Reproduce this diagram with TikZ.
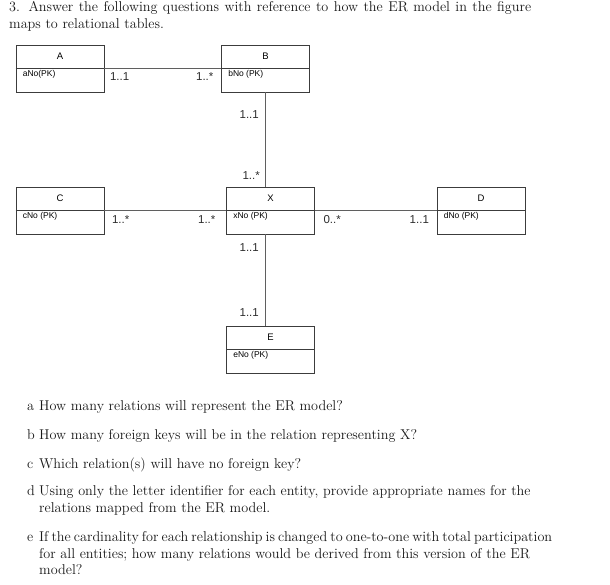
\documentclass[tikz,border=0pt]{standalone}
\usepackage{fontspec}
\setsansfont{Liberation Sans}
\usepackage{xcolor}
\usepackage{tikz}
\usetikzlibrary{positioning, calc}
\definecolor{erbox}{RGB}{60,60,60}
\definecolor{erlink}{RGB}{95,95,95}
\definecolor{ercard}{RGB}{45,45,45}
\definecolor{ertext}{RGB}{25,25,25}

\tikzset{
  entity/.style={draw=erbox, line width=0.8pt, minimum width=88pt, minimum height=47pt, inner sep=0pt},
  entline/.style={draw=erbox, line width=0.8pt},
  enttitle/.style={font=\sffamily\fontsize{9.5}{11}\selectfont, inner sep=0pt},
  entkey/.style={font=\sffamily\fontsize{8.5}{10}\selectfont, inner sep=0pt, anchor=north west},
  card/.style={font=\sffamily\fontsize{11.5}{13}\selectfont, text=ercard, inner sep=0.5pt},
  link/.style={draw=erlink, line width=0.8pt},
  para/.style={font=\fontsize{14.2}{16.5}\selectfont, text=ertext, inner sep=0pt, anchor=north west, align=left}
}

\begin{document}
\begin{tikzpicture}[x=1pt, y=-1pt]
\useasboundingbox (0,0) rectangle (610,584);
\fill[white] (0,0) rectangle (610,584);

% Question text
\node[para] (intro) at (9,1.5) {\makebox[522pt][s]{3. Answer the following questions with reference to how the ER model in the figure}\\maps to relational tables.};

% Entities
\foreach \n/\x/\y/\t/\k in {a/60/68.5/A/{aNo(PK)}, b/265.5/68.5/B/{bNo (PK)}, c/60/210.5/C/{cNo (PK)},
    x/270.5/210.5/X/{xNo (PK)}, d/481/210.5/D/{dNo (PK)}, e/270.5/349.5/E/{eNo (PK)}} {
  \node[entity] (\n) at (\x,\y) {};
  \draw[entline] (\n.west) -- (\n.east);
  \node[enttitle] (\n-title) at ($(\n.north)!0.5!(\n.center)$) {\t};
  \node[entkey] (\n-key) at ([shift={(7pt,-2pt)}]\n.west) {\k};
}

% Relationships
\coordinate (bx) at (b.south |- x.north);
\coordinate (xe1) at (x.south -| b.south);
\coordinate (xe2) at (e.north -| b.south);
\draw[link] (a.east) -- (b.west);
\draw[link] (b.south) -- (bx);
\draw[link] (c.east) -- (x.west);
\draw[link] (x.east) -- (d.west);
\draw[link] (xe1) -- (xe2);

% Cardinalities
\node[card, below right=3pt and 5pt of a.east] (ab1) {1..1};
\node[card, below left=3pt and 7pt of b.west] (ab2) {1..*};
\node[card, below left=17pt and 6pt of b.south] (bx1) {1..1};
\node[card, above left=6pt and 5pt of bx] (bx2) {1..*};
\node[card, below right=4pt and 7pt of c.east] (cx1) {1..*};
\node[card, below left=4pt and 10pt of x.west] (cx2) {1..*};
\node[card, below right=4pt and 8pt of x.east] (xd1) {0..*};
\node[card, below left=4pt and 7pt of d.west] (xd2) {1..1};
\node[card, below left=8pt and 6pt of xe1] (xe1c) {1..1};
\node[card, above left=8pt and 6pt of xe2] (xe2c) {1..1};

% Sub-questions
\node[para] (qa) at (27,400.5) {\makebox[12pt][l]{a}How many relations will represent the ER model?};
\node[para] (qb) at (27,429.5) {\makebox[12pt][l]{b}How many foreign keys will be in the relation representing X?};
\node[para] (qc) at (27,457.5) {\makebox[12pt][l]{c}Which relation(s) will have no foreign key?};
\node[para] (qd) at (27,485.5) {\makebox[12pt][l]{d}Using only the letter identifier for each entity, provide appropriate names for the\\\hspace*{12pt}relations mapped from the ER model.};
\node[para] (qe) at (27,531.5) {\makebox[12pt][l]{e}\makebox[513pt][s]{If the cardinality for each relationship is changed to one-to-one with total participation}\\\hspace*{12pt}for all entities; how many relations would be derived from this version of the ER\\\hspace*{12pt}model?};
\end{tikzpicture}
\end{document}
